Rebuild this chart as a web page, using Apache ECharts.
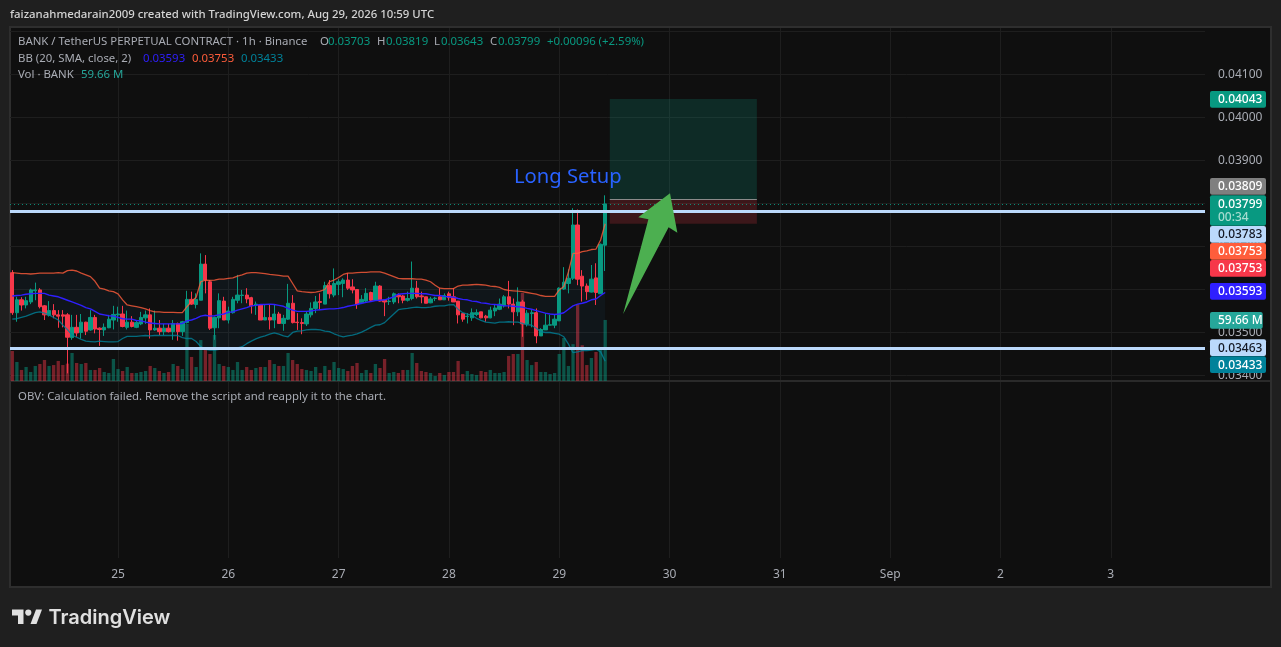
<!DOCTYPE html>
<html><head><meta charset="utf-8">
<style>html,body{margin:0;padding:0;background:#1f1f1f;overflow:hidden}#c{width:1281px;height:647px}</style>
<script src="https://cdn.jsdelivr.net/npm/echarts@6/dist/echarts.min.js"></script>
</head><body><div id="c"></div>
<script>
// Prices below are in units of 0.00001
const open=[3639,3546,3576,3564,3571,3597,3599,3562,3540,3551,3541,3541,3541,3488,3512,3500,3524,3506,3535,3510,3506,3511,3529,3541,3543,3512,3524,3512,3520,3534,3541,3506,3510,3502,3510,3502,3521,3502,3523,3577,3565,3575,3659,3618,3511,3534,3573,3529,3546,3575,3586,3587,3581,3564,3564,3529,3535,3529,3543,3521,3531,3568,3524,3523,3520,3541,3556,3572,3566,3609,3587,3612,3614,3622,3606,3600,3569,3573,3593,3575,3608,3575,3572,3571,3587,3585,3575,3579,3603,3585,3583,3569,3579,3583,3576,3590,3583,3573,3544,3537,3534,3542,3548,3538,3534,3550,3554,3562,3583,3566,3548,3571,3520,3544,3546,3492,3506,3517,3517,3527,3601,3614,3626,3750,3631,3608,3594,3627,3590,3703];
const close=[3546,3576,3564,3574,3599,3599,3560,3541,3551,3541,3538,3538,3489,3512,3499,3524,3503,3535,3508,3507,3512,3531,3542,3543,3514,3524,3514,3523,3535,3541,3506,3510,3502,3510,3502,3521,3502,3525,3577,3566,3577,3659,3622,3510,3535,3574,3529,3550,3577,3587,3587,3578,3562,3566,3529,3535,3529,3543,3521,3533,3568,3523,3523,3521,3543,3556,3571,3570,3609,3590,3614,3618,3622,3603,3599,3566,3577,3591,3575,3608,3573,3571,3573,3590,3583,3575,3579,3603,3583,3583,3568,3578,3580,3576,3586,3581,3571,3541,3531,3538,3546,3546,3534,3534,3552,3557,3566,3583,3566,3548,3571,3520,3545,3546,3492,3507,3517,3518,3531,3603,3617,3626,3750,3624,3608,3595,3624,3593,3705,3799];
const low=[3541,3525,3551,3556,3566,3575,3556,3529,3537,3533,3511,3512,3405,3483,3490,3486,3494,3504,3498,3469,3492,3510,3507,3525,3512,3507,3512,3510,3517,3520,3486,3504,3494,3494,3500,3483,3481,3492,3521,3564,3556,3575,3591,3506,3483,3510,3529,3521,3544,3568,3568,3568,3544,3541,3529,3529,3507,3510,3521,3504,3529,3521,3506,3496,3515,3535,3545,3552,3566,3579,3582,3587,3582,3599,3591,3555,3566,3569,3572,3574,3572,3538,3564,3566,3568,3568,3572,3575,3579,3568,3568,3568,3573,3576,3576,3574,3572,3521,3525,3521,3527,3538,3533,3525,3533,3538,3552,3558,3556,3517,3538,3490,3514,3512,3475,3492,3506,3517,3510,3527,3599,3591,3622,3610,3572,3576,3593,3564,3590,3643];
const high=[3645,3583,3582,3583,3602,3616,3603,3564,3573,3566,3552,3552,3545,3541,3541,3543,3525,3552,3541,3512,3521,3541,3562,3560,3562,3551,3538,3527,3548,3551,3556,3551,3529,3520,3520,3529,3523,3527,3597,3595,3591,3684,3680,3622,3537,3591,3583,3560,3583,3634,3599,3603,3583,3572,3566,3564,3564,3566,3548,3541,3613,3587,3545,3533,3548,3570,3585,3591,3618,3622,3649,3624,3626,3638,3624,3600,3587,3603,3595,3618,3610,3575,3583,3593,3591,3587,3595,3665,3620,3595,3583,3583,3583,3603,3591,3595,3603,3573,3545,3545,3556,3554,3548,3541,3560,3564,3579,3587,3620,3579,3605,3576,3552,3554,3556,3510,3545,3541,3541,3605,3652,3647,3789,3786,3645,3614,3657,3661,3707,3819];
const volumeM=[29.3,18.6,10.8,13.7,8.8,14.7,16.6,20.5,14.7,15.6,19.6,15.6,17,27.4,17.6,16.6,17.6,10.8,10.8,12.7,8.8,7.8,21.5,11.7,9.8,13.7,7.8,7.8,8.8,9.8,14.7,12.7,9.8,7.8,8.8,16.6,14.7,11.7,55.7,23.5,13.7,40,32,26.4,45,16.6,14.7,13.7,10.8,18.6,10.8,13.7,10.8,12.7,13.7,13.7,20.5,16.6,14.7,14.7,27.4,20.5,16.6,11.7,10.8,9.8,13.7,7.8,14.7,10.8,18.6,12.7,11.7,9.8,14.7,17.6,7.8,10.8,7.8,16.6,12.7,21.5,7.8,8.8,7.8,10.8,10.8,27.4,17.6,9.8,8.8,7.8,4.9,7.8,5.9,8.8,8.8,19.6,6.8,9.8,6.8,5.9,9.8,8.8,10.8,7.8,7.8,8.8,24.5,26.4,26.4,86,20.5,15.6,18.6,8.8,8.8,6.8,7.8,26.4,42,14.7,36,75,35,15.6,22.5,28.4,32,59.66];
const bbUpper=[3639,3638,3637,3637,3636,3637,3638,3638,3638,3638,3639,3638,3644,3645,3643,3638,3634,3630,3619,3603,3601,3597,3595,3590,3576,3564,3562,3560,3558,3555,3551,3548,3548,3547,3547,3547,3546,3546,3560,3572,3582,3618,3622,3621,3622,3624,3624,3626,3627,3631,3634,3638,3639,3639,3638,3637,3635,3634,3633,3631,3631,3614,3597,3595,3594,3593,3594,3596,3600,3618,3622,3628,3635,3638,3638,3639,3640,3640,3641,3641,3641,3638,3634,3630,3626,3625,3625,3625,3624,3624,3622,3618,3610,3603,3602,3602,3602,3608,3610,3610,3611,3612,3611,3610,3608,3607,3605,3600,3598,3597,3596,3595,3593,3591,3589,3586,3584,3584,3584,3599,3607,3641,3684,3684,3688,3690,3693,3694,3715,3753];
const bbMid=[3585,3586,3587,3589,3590,3591,3591,3591,3587,3585,3583,3579,3575,3571,3567,3563,3558,3555,3549,3543,3541,3539,3538,3535,3532,3531,3531,3528,3527,3524,3522,3521,3520,3520,3520,3520,3520,3521,3527,3529,3533,3538,3540,3538,3539,3541,3543,3547,3548,3552,3555,3558,3562,3563,3565,3565,3566,3565,3563,3561,3556,3552,3549,3549,3549,3550,3552,3553,3554,3555,3555,3556,3558,3561,3563,3565,3568,3570,3572,3574,3575,3576,3579,3583,3589,3590,3591,3591,3591,3590,3590,3588,3586,3586,3584,3583,3582,3579,3577,3576,3573,3572,3569,3568,3566,3565,3564,3562,3562,3561,3560,3559,3556,3554,3551,3548,3545,3543,3542,3543,3546,3554,3562,3566,3568,3571,3576,3578,3586,3593];
const bbLower=[3531,3532,3535,3538,3542,3546,3548,3545,3541,3535,3529,3517,3507,3494,3489,3484,3480,3479,3478,3480,3479,3478,3478,3479,3486,3491,3491,3491,3492,3493,3492,3493,3493,3493,3493,3493,3493,3488,3486,3486,3479,3467,3461,3459,3459,3461,3462,3462,3463,3464,3467,3474,3480,3485,3489,3492,3496,3499,3496,3492,3490,3500,3503,3504,3506,3507,3507,3506,3503,3502,3497,3493,3490,3492,3494,3497,3501,3506,3512,3517,3518,3523,3533,3543,3553,3555,3556,3558,3559,3558,3558,3559,3561,3562,3562,3564,3565,3554,3546,3543,3540,3533,3528,3524,3523,3522,3524,3524,3525,3524,3524,3521,3518,3517,3510,3502,3500,3500,3498,3496,3490,3473,3453,3455,3458,3458,3459,3461,3455,3433];
const tickPrices=[3400,3500,3600,3700,3800,3900,4000,4100];
const gridPrices=[3400,3500,3600,3700,3800,3900,4000,4100,4200];
const dayIndex=[23,47,71,95,119,143,167,191,215,239];
const dayLabels=['25','26','27','28','29','30','31','Sep','2','3'];
const levelLines=[3783,3463];
const lastPrice=3799, entry=3809, target=4043, stop=3753;
const posStart=130, posEnd=162;
const arrowIndex=[143.1,136.2,138.4,132.9,142.8,144.7];
const arrowPrice=[3823.7,3767.9,3763.3,3543,3744.7,3732.1];
const tagTexts=['0.04043','0.03809','0.03799','0.03783','0.03753','0.03753','0.03593','59.66 M','0.03463','0.03433'];
const tagColors=['#089981','#7f7f7f','#089981','#bbd9fb','#ff5d3b','#f7374a','#2f1fff','#26a69a','#bbd9fb','#00829a'];
const tagInk=['#fff','#fff','#fff','#131722','#fff','#fff','#fff','#fff','#131722','#fff'];
const tagTops=[91,178,195.3,226,243,260,283,312,339.3,356.3];

const N=260, P=v=>v/100000;
const categories=Array.from({length:N},(_,i)=>'h'+(i+1));
const FONT='"Noto Sans"';
const UP='#089981',DOWN='#f7374a';
const candles=open.map((o,i)=>[P(o),P(close[i]),P(low[i]),P(high[i])]);
const vols=volumeM.map((v,i)=>({value:v,itemStyle:{color:close[i]>=open[i]?'rgba(8,153,129,.5)':'rgba(247,55,74,.45)'}}));

const txt=(x,y,text,fill,size,weight,extra)=>({type:'text',x,y,z:60,silent:true,style:Object.assign({text,fill,font:(weight||'normal')+' '+(size||12)+'px '+FONT,textVerticalAlign:'middle'},extra||{})});
const tagEls=[];
tagTexts.forEach((t,i)=>{
  const h=i===2?30.4:16.8, w=i===7?52.7:56;
  tagEls.push({type:'rect',z:50,silent:true,shape:{x:1210,y:tagTops[i],width:w,height:h,r:2},style:{fill:tagColors[i]}});
  tagEls.push(txt(1218,tagTops[i]+9,t,tagInk[i],12,'500'));
});
tagEls.push(txt(1218,218,'00:34','#a6dcd0',12,'500'));
const G='#a9acb4',GR='#089981',S=11.4;
const headerEls=[
 txt(10,14.5,'faizanahmedarain2009 created with TradingView.com, Aug 29, 2026 10:59 UTC','#d4d4d4',11.4,'500'),
 txt(18,42,'BANK / TetherUS PERPETUAL CONTRACT · 1h · Binance',G,S),
 txt(320,42,'O',G,S),txt(328,42,'0.03703',GR,S),
 txt(377,42,'H',G,S),txt(386,42,'0.03819',GR,S),
 txt(434,42,'L',G,S),txt(441,42,'0.03643',GR,S),
 txt(490,42,'C',G,S),txt(498,42,'0.03799',GR,S),
 txt(547,42,'+0.00096 (+2.59%)',GR,S),
 txt(18,58.5,'BB (20, SMA, close, 2)',G,S),
 txt(143,58.5,'0.03593','#2f1fff',S),txt(192,58.5,'0.03753','#ff5d3b',S),txt(241,58.5,'0.03433','#00829a',S),
 txt(18,75,'Vol · BANK',G,S),txt(81,75,'59.66 M','#26a69a',S),
 txt(18,397,'OBV: Calculation failed. Remove the script and reapply it to the chart.',G,S),
 txt(514,177.5,'Long Setup','#2962ff',20.2,'normal'),
 {type:'polygon',z:60,silent:true,shape:{points:[[12,609.5],[23.5,609.5],[23.5,624],[18,624],[18,615.5],[12,615.5]]},style:{fill:'#e0e0e0'}},
 {type:'circle',z:60,silent:true,shape:{cx:28.3,cy:612.6,r:3.1},style:{fill:'#e0e0e0'}},
 {type:'polygon',z:60,silent:true,shape:{points:[[30.5,624],[36,609.5],[42,609.5],[36.5,624]]},style:{fill:'#e0e0e0'}},
 txt(48.5,617.5,'TradingView','#e0e0e0',20,'600',{font:'600 20px Inter'})
];
const bgEls=[
 {type:'rect',z:-5,silent:true,shape:{x:10,y:27,width:1261,height:560},style:{fill:'#0f0f0f',stroke:'#2e2e2e',lineWidth:2}},
 {type:'line',z:1,silent:true,shape:{x1:10,y1:381,x2:1270,y2:381},style:{stroke:'#2a2a2a',lineWidth:2}}
];
const GRID='#1e1e1e';
const chart=echarts.init(document.getElementById('c'),null,{renderer:'canvas'});
const dayAxis=(gi,showLabel)=>({type:'value',gridIndex:gi,min:-.5,max:N-.5,position:'bottom',
  axisLine:{show:false},axisTick:{show:false,customValues:dayIndex},
  splitLine:{show:true,lineStyle:{color:GRID,width:1}},
  axisLabel:{show:showLabel,customValues:dayIndex,margin:9,padding:[2,0,0,0],color:G,fontFamily:FONT,fontSize:12,formatter:v=>dayLabels[dayIndex.indexOf(v)]||''}});
chart.setOption({
 animation:false,backgroundColor:'#1f1f1f',
 textStyle:{fontFamily:FONT},
 graphic:{elements:bgEls.concat(headerEls,tagEls)},
 grid:[{left:10,top:28,width:1195,height:353,containLabel:false},{left:10,top:382,width:1195,height:176}],
 xAxis:[
  {type:'category',gridIndex:0,data:categories,show:false,boundaryGap:true},
  dayAxis(0,false),
  dayAxis(1,true)
 ],
 yAxis:[
  {type:'value',gridIndex:0,position:'right',min:0.033872,max:0.042081,
   axisLine:{show:false},axisTick:{show:false,customValues:gridPrices.map(P)},
   splitLine:{show:true,lineStyle:{color:GRID,width:1}},
   axisLabel:{customValues:tickPrices.map(P),margin:13,padding:[4,0,0,0],color:G,fontFamily:FONT,fontSize:12,formatter:v=>v.toFixed(5)}},
  {type:'value',gridIndex:0,min:0,max:345,show:false,splitLine:{show:false}},
  {type:'value',gridIndex:1,min:0,max:1,show:false,splitLine:{show:false}}
 ],
 series:[
  {type:'bar',name:'Vol',xAxisIndex:0,yAxisIndex:1,data:vols,barWidth:3.3,z:2,silent:true},
  {type:'line',name:'base',xAxisIndex:0,yAxisIndex:0,stack:'bb',data:bbLower.map(P),symbol:'none',lineStyle:{opacity:0},z:3,silent:true},
  {type:'line',name:'band',xAxisIndex:0,yAxisIndex:0,stack:'bb',data:bbUpper.map((u,i)=>P(u-bbLower[i])),symbol:'none',lineStyle:{opacity:0},areaStyle:{color:'rgba(33,150,243,.07)',origin:'start'},z:3,silent:true},
  {type:'candlestick',name:'BANK',xAxisIndex:0,yAxisIndex:0,data:candles,barWidth:3.8,z:4,silent:true,
   itemStyle:{color:UP,color0:DOWN,borderColor:UP,borderColor0:DOWN,borderWidth:1}},
  {type:'line',name:'Upper',xAxisIndex:0,yAxisIndex:0,data:bbUpper.map(P),symbol:'none',lineStyle:{color:'#ff5d3b',width:1.3,opacity:.8},z:5,silent:true},
  {type:'line',name:'Basis',xAxisIndex:0,yAxisIndex:0,data:bbMid.map(P),symbol:'none',lineStyle:{color:'#2f1fff',width:1.4},z:5,silent:true,
   markArea:{silent:true,z:1,data:[
     [{coord:[posStart,P(target)],itemStyle:{color:'rgba(8,153,129,.2)'}},{coord:[posEnd,P(entry)]}],
     [{coord:[posStart,P(entry)],itemStyle:{color:'rgba(242,54,69,.2)'}},{coord:[posEnd,P(stop)]}]
   ]},
   markLine:{silent:true,symbol:'none',precision:6,label:{show:false},z:8,
    data:[
     {yAxis:P(lastPrice),lineStyle:{color:'#089981',width:1,type:[1,3],opacity:.9}},
     ...levelLines.map(v=>({yAxis:P(v),lineStyle:{color:'#bbd9fb',width:3,type:'solid'}})),
     [{coord:[posStart,P(entry)],lineStyle:{color:'#8a8a8a',width:1,type:'solid'}},{coord:[posEnd,P(entry)]}]
    ]}},
  {type:'line',name:'Lower',xAxisIndex:0,yAxisIndex:0,data:bbLower.map(P),symbol:'none',lineStyle:{color:'#00829a',width:1.3,opacity:.8},z:5,silent:true},
  {type:'custom',name:'Arrow',xAxisIndex:1,yAxisIndex:0,data:[0],z:9,silent:true,clip:false,
   renderItem:(p,api)=>({type:'polygon',shape:{points:arrowIndex.map((x,i)=>api.coord([x,P(arrowPrice[i])]))},style:{fill:'#4caf50'}})},
  {type:'line',xAxisIndex:2,yAxisIndex:2,data:[],silent:true}
 ]
});
</script></body></html>
